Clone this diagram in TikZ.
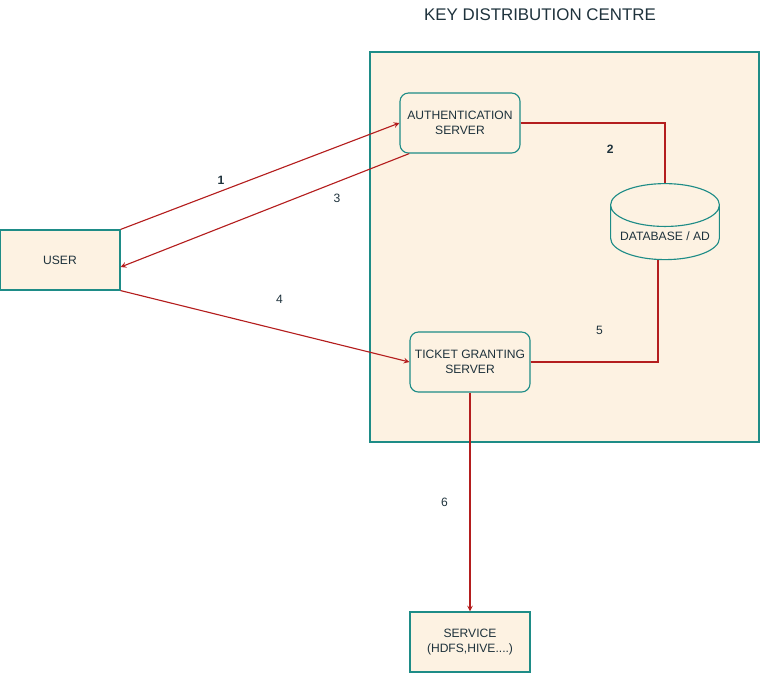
\documentclass[tikz,border=0pt]{standalone}
\usepackage{fontspec}
\setmainfont{Liberation Sans}
\usetikzlibrary{shapes.geometric,patterns}
\definecolor{kdcteal}{RGB}{30,140,135}
\definecolor{kdcfill}{RGB}{253,242,226}
\definecolor{kdcred}{RGB}{180,30,30}
\definecolor{kdctext}{RGB}{30,50,60}
\tikzset{
  box/.style={draw=kdcteal, thick, fill=kdcfill, text=kdctext, align=center, font=\fontsize{8.6}{10.5}\selectfont, inner sep=2pt},
  srv/.style={box, rounded corners=6pt},
  link/.style={draw=kdcred, line width=0.8pt},
  num/.style={text=kdctext, font=\fontsize{8.6}{10}\selectfont}
}
\begin{document}
\begin{tikzpicture}[x=0.025cm, y=-0.025cm, >=stealth]
\useasboundingbox (0,0) rectangle (761,673);
\node[font=\fontsize{12}{14}\selectfont, text=kdctext] (title) at (540,15) {KEY DISTRIBUTION CENTRE};
\draw[kdcteal, thick, fill=kdcfill] (370,52) rectangle (759,442);
\node[srv, minimum width=3cm, minimum height=1.5cm] (auth) at (460,123) {AUTHENTICATION\\SERVER};
\node[srv, minimum width=3cm, minimum height=1.5cm] (tgs) at (470,362) {TICKET GRANTING\\SERVER};
\node[box, cylinder, shape border rotate=90, aspect=0.45, minimum width=2.72cm, minimum height=1.9cm] (db) at (665,236) {DATABASE / AD};
\node[box, minimum width=3cm, minimum height=1.5cm] (user) at (60,260) {USER};
\node[box, minimum width=3cm, minimum height=1.5cm] (svc) at (470,642) {SERVICE\\(HDFS,HIVE....)};
\draw[link, ->] (user.north east) -- (auth.west) node[num, pos=0.36, above=1pt] {\textbf{1}};
\draw[link, ->] ([xshift=7]auth.south west) -- ([yshift=-5]user.east) node[num, pos=0.25, below=5pt] {3};
\draw[link] (auth.east) -| (db.top) node[num, pos=0.31, below=12pt] {\textbf{2}};
\draw[link, ->] (user.south east) -- (tgs.west) node[num, pos=0.55, above=15pt] {4};
\draw[link] (tgs.east) -| ([xshift=-5]db.bottom) node[num, pos=0.27, above=16pt] {5};
\draw[link, ->] (tgs.south) -- (svc.north) node[num, midway, left=12pt] {6};
\end{tikzpicture}
\end{document}
